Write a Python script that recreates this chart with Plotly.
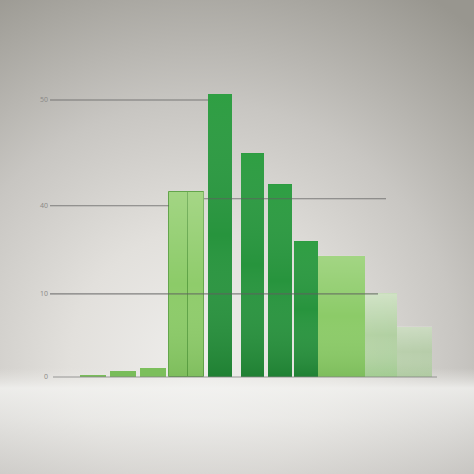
import plotly.graph_objects as go

# bar heights (axis units, 0 = baseline)
bar_values = [0.4, 1.0, 1.6, 33.4, 33.4, 51.1, 40.4, 34.8, 24.5, 21.9, 15.1, 9.1]

# y axis ticks as printed on the picture (the labels are not evenly spaced)
tick_vals = [0, 15.0, 30.9, 50]
tick_text = ["0", "10", "40", "50"]

# bar left / right edges in screen units (x axis runs 0..474)
bar_left = [80, 110, 140, 169, 187.5, 208, 241, 268, 294, 318, 365, 397]
bar_right = [106, 136, 166, 187.5, 204, 232, 264, 292, 318, 365, 397, 432]

# styles
LIGHT, DARK = "#8ccb68", "#27943d"
bar_colors = ["#79bd5a", "#79bd5a", "#7cbf5c", LIGHT, "#8fcc6b", DARK,
              DARK, DARK, DARK, LIGHT,
              "rgba(150,205,125,0.55)", "rgba(160,205,140,0.5)"]
sheen_light = ("rgba(255,255,240,0.2)", "rgba(40,110,20,0.15)")
sheen_dark = ("rgba(90,220,100,0.15)", "rgba(0,50,10,0.2)")
bar_sheen = [None, None, None, sheen_light, sheen_light, sheen_dark,
             sheen_dark, sheen_dark, sheen_dark, sheen_light,
             ("rgba(255,255,250,0.4)", "rgba(100,180,80,0.25)"),
             ("rgba(255,255,250,0.3)", "rgba(120,170,100,0.2)")]
edge_width = [0, 0, 0, 1, 1, 0, 0, 0, 0, 0, 0, 0]

W = H = 474
BASE_PX = 377          # pixel row of value 0
PX_PER_UNIT = 5.54     # pixels per value unit


def px_to_val(p):
    return (BASE_PX - p) / PX_PER_UNIT


y_lo, y_hi = px_to_val(H), px_to_val(0)

fig = go.Figure()

# background (own subplot in pixel units, y down): radial glow on a gray wall
cx, cy, r = 200, 360, 430
fig.add_trace(go.Scatter(
    x=[cx - r, cx + r, cx + r, cx - r, cx - r],
    y=[cy - r, cy - r, cy + r, cy + r, cy - r],
    xaxis="x", yaxis="y",
    mode="none", fill="toself", hoverinfo="skip", showlegend=False,
    fillgradient=dict(type="radial", colorscale=[
        [0, "#efeeec"], [0.3, "#e2e0dc"], [0.6, "#c8c6c2"], [1, "#98968f"]]),
))

# floor: brighter band just under the baseline
fig.add_trace(go.Scatter(
    x=[-10, 484, 484, -10, -10],
    y=[368, 368, H + 5, H + 5, 368],
    xaxis="x", yaxis="y",
    mode="none", fill="toself", hoverinfo="skip", showlegend=False,
    fillgradient=dict(type="vertical", colorscale=[
        [0, "rgba(205,203,200,0.55)"], [0.55, "rgba(238,238,236,0.6)"],
        [0.82, "rgba(243,243,241,0.8)"], [1, "rgba(235,234,231,0)"]]),
))

centers = [(a + b) / 2 for a, b in zip(bar_left, bar_right)]
widths = [b - a for a, b in zip(bar_left, bar_right)]

fig.add_trace(go.Bar(
    x=centers, y=bar_values, width=widths,
    xaxis="x2", yaxis="y2",
    marker=dict(color=bar_colors,
                line=dict(width=edge_width, color="rgba(90,160,65,0.9)")),
    showlegend=False, hoverinfo="y",
))

# soft vertical sheen on the bars (lighter top, darker foot)
for a, b, v, sheen in zip(bar_left, bar_right, bar_values, bar_sheen):
    if sheen is None:
        continue
    top, foot = sheen
    fig.add_trace(go.Scatter(
        x=[a, b, b, a, a], y=[0, 0, v, v, 0],
        xaxis="x2", yaxis="y2",
        mode="none", fill="toself", hoverinfo="skip", showlegend=False,
        fillgradient=dict(type="vertical", colorscale=[
            [0, foot], [0.5, "rgba(255,255,255,0)"], [1, top]]),
    ))

# guide lines (segments as drawn in the picture)
guides = [
    (50, 50, 208),
    (tick_vals[2], 50, 169),
    (px_to_val(198.7), 204, 386),
    (tick_vals[1], 50, 378),
]
for v, x0, x1 in guides:
    fig.add_shape(type="line", x0=x0, x1=x1, y0=v, y1=v, xref="x2", yref="y2",
                  line=dict(color="rgba(95,95,95,0.75)", width=1.1), layer="above")
fig.add_shape(type="line", x0=53, x1=437, y0=0, y1=0, xref="x2", yref="y2",
              line=dict(color="rgba(130,130,130,0.8)", width=1), layer="above")

fig.update_layout(
    width=W, height=H,
    margin=dict(l=0, r=0, t=0, b=0),
    paper_bgcolor="#dcdad6", plot_bgcolor="rgba(0,0,0,0)",
    bargap=0,
    xaxis=dict(range=[0, W], visible=False, fixedrange=True),
    yaxis=dict(range=[H, 0], visible=False, fixedrange=True),
    xaxis2=dict(range=[0, W], visible=False, fixedrange=True,
                domain=[0, 1], anchor="y2"),
    yaxis2=dict(range=[y_lo, y_hi], anchor="free", position=48 / W,
                domain=[0, 1],
                tickvals=tick_vals, ticktext=tick_text, showgrid=False,
                zeroline=False, showline=False, ticks="",
                tickfont=dict(family="Open Sans", size=7, color="#8a8886"),
                automargin=False, fixedrange=True),
)

fig.write_html("out.html", config={"displayModeBar": False},
               post_script="document.body.style.margin='0';")
